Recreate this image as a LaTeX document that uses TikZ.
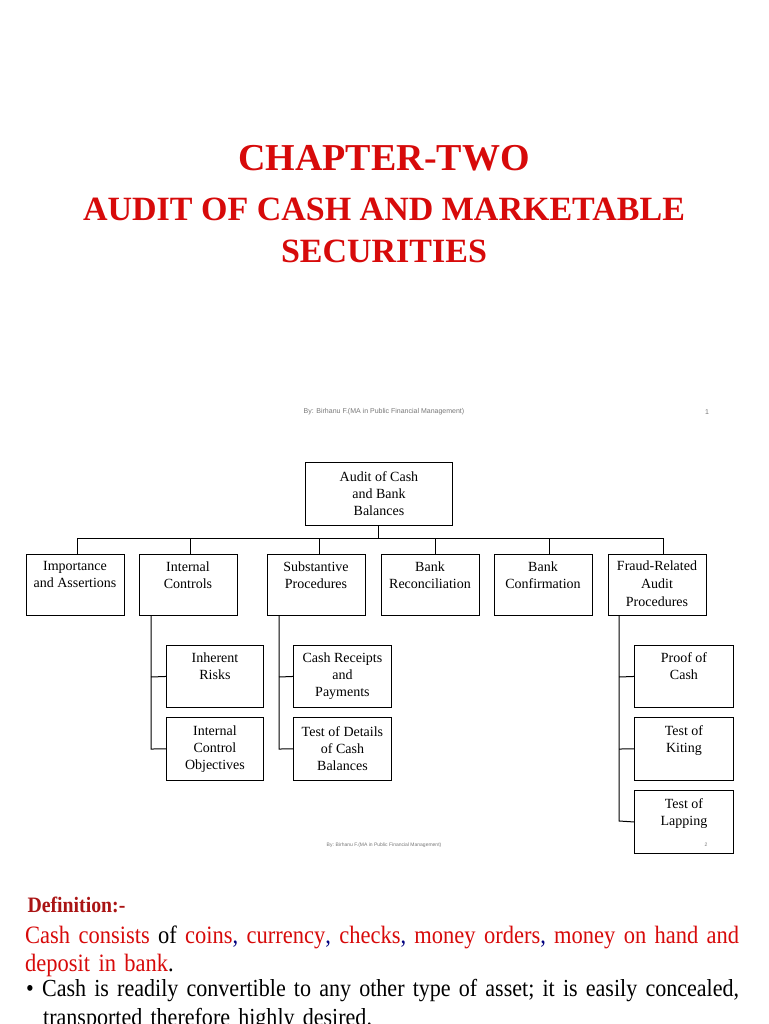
\documentclass[tikz,border=0pt]{standalone}
\usepackage{fontspec}
\setmainfont{Liberation Serif}
\newfontfamily\condfont[FakeStretch=0.9]{Liberation Serif}
\newfontfamily\footfont{Liberation Sans}
\definecolor{titlered}{RGB}{215,10,10}
\definecolor{defred}{RGB}{170,20,20}
\definecolor{footgrey}{RGB}{120,120,120}
\begin{document}
\begin{tikzpicture}[x=1pt,y=-1pt,
  bx/.style={draw,line width=0.9pt,fill=white,inner sep=0pt,anchor=north west,align=center,font=\fontsize{14}{17}\selectfont},
  tx/.style={font=\fontsize{14}{17}\selectfont,align=center,anchor=north},
  ln/.style={line width=1pt}]
\useasboundingbox (0,0) rectangle (768,1024);
\fill[white] (0,0) rectangle (768,1024);
\node[text=titlered,font=\bfseries\fontsize{38}{42}\selectfont] (t1) at (384,158) {CHAPTER-TWO};
\node[text=titlered,font=\bfseries\fontsize{34}{42}\selectfont,align=center] (t2) at (384,230) {AUDIT OF CASH AND MARKETABLE\\SECURITIES};
\node[text=footgrey,font=\footfont\fontsize{7}{8}\selectfont] (f1) at (384,412) {By: Birhanu F.(MA in Public Financial Management)};
\node[text=footgrey,font=\footfont\fontsize{7}{8}\selectfont] (p1) at (707,412) {1};
\newcommand{\bxn}[6]{\node[bx,minimum width=#4pt,minimum height=#5pt] (#1) at (#2,#3) {#6};}
\bxn{root}{305}{462}{147}{63}{Audit of Cash\\and Bank\\Balances}
\node[bx,minimum width=98pt,minimum height=61pt] (a) at (26,554) {};
\node[tx] at (75,558) {Importance\\and Assertions};
\node[bx,minimum width=98pt,minimum height=61pt] (b) at (139,554) {};
\node[tx] at (188,558) {Internal\\Controls};
\node[bx,minimum width=98pt,minimum height=61pt] (c) at (267,554) {};
\node[tx] at (316,558) {Substantive\\Procedures};
\node[bx,minimum width=98pt,minimum height=61pt] (d) at (381,554) {};
\node[tx] at (430,558) {Bank\\Reconciliation};
\node[bx,minimum width=98pt,minimum height=61pt] (e) at (494,554) {};
\node[tx] at (543,558) {Bank\\Confirmation};
\node[bx,minimum width=98pt,minimum height=61pt] (f) at (608,554) {};
\node[tx,font=\fontsize{14}{18}\selectfont] at (657,557) {Fraud-Related\\Audit\\Procedures};
\bxn{b1}{166}{645}{97}{62}{Inherent\\Risks\\[3pt]}
\bxn{b2}{166}{717}{97}{63}{Internal\\Control\\Objectives}
\bxn{c1}{293}{645}{98}{62}{Cash Receipts\\and\\Payments}
\bxn{c2}{293}{717}{98}{63}{Test of Details\\of Cash\\Balances}
\bxn{f1b}{634}{645}{99}{62}{Proof of\\Cash\\[3pt]}
\bxn{f2b}{634}{717}{99}{63}{Test of\\Kiting\\[3pt]}
\bxn{f3b}{634}{790}{99}{63}{Test of\\Lapping\\[3pt]}
\coordinate (busL) at (77,538);
\coordinate (busR) at (663,538);
\draw[ln] (root.south) -- (root.south |- busL);
\draw[ln] (busL) -- (busR);
\foreach \xx in {77,190,319,435,549,663}
  \draw[ln] (\xx,538) -- (\xx,554);
\draw[ln] (151,615) -- (151,749) -- (b2.west);
\draw[ln] (151,677) -- (b1.west);
\draw[ln] (279,615) -- (279,749) -- (c2.west);
\draw[ln] (279,677) -- (c1.west);
\draw[ln] (619,615) -- (619,821) -- (f3b.west);
\draw[ln] (619,677) -- (f1b.west);
\draw[ln] (619,749) -- (f2b.west);
\node[text=footgrey,font=\footfont\fontsize{5}{6}\selectfont] (f2) at (384,845) {By: Birhanu F.(MA in Public Financial Management)};
\node[text=footgrey,font=\footfont\fontsize{5}{6}\selectfont] (p2) at (706,845) {2};
\node[anchor=west,text=defred,font=\bfseries\condfont\fontsize{22}{26}\selectfont] (def) at (24,905) {Definition:-};
\node[anchor=north west,align=left,text width=725pt,font=\condfont\fontsize{25}{28}\selectfont,inner sep=0pt] (cash) at (25,926)
 {\color{titlered}Cash consists \color{black}of \color{titlered}coins\color{blue!50!black}, \color{titlered}currency\color{blue!50!black}, \color{titlered}checks\color{blue!50!black}, \color{titlered}money orders\color{blue!50!black}, \color{titlered}money on hand and\\deposit in bank\color{black}.};
\node[anchor=north west,align=left,text width=740pt,font=\condfont\fontsize{24.5}{29}\selectfont,inner sep=0pt] (bul) at (26,979)
 {\textbullet\ Cash is readily convertible to any other type of asset; it is easily concealed,\\\hspace*{17pt}transported therefore highly desired.};
\end{tikzpicture}
\end{document}
